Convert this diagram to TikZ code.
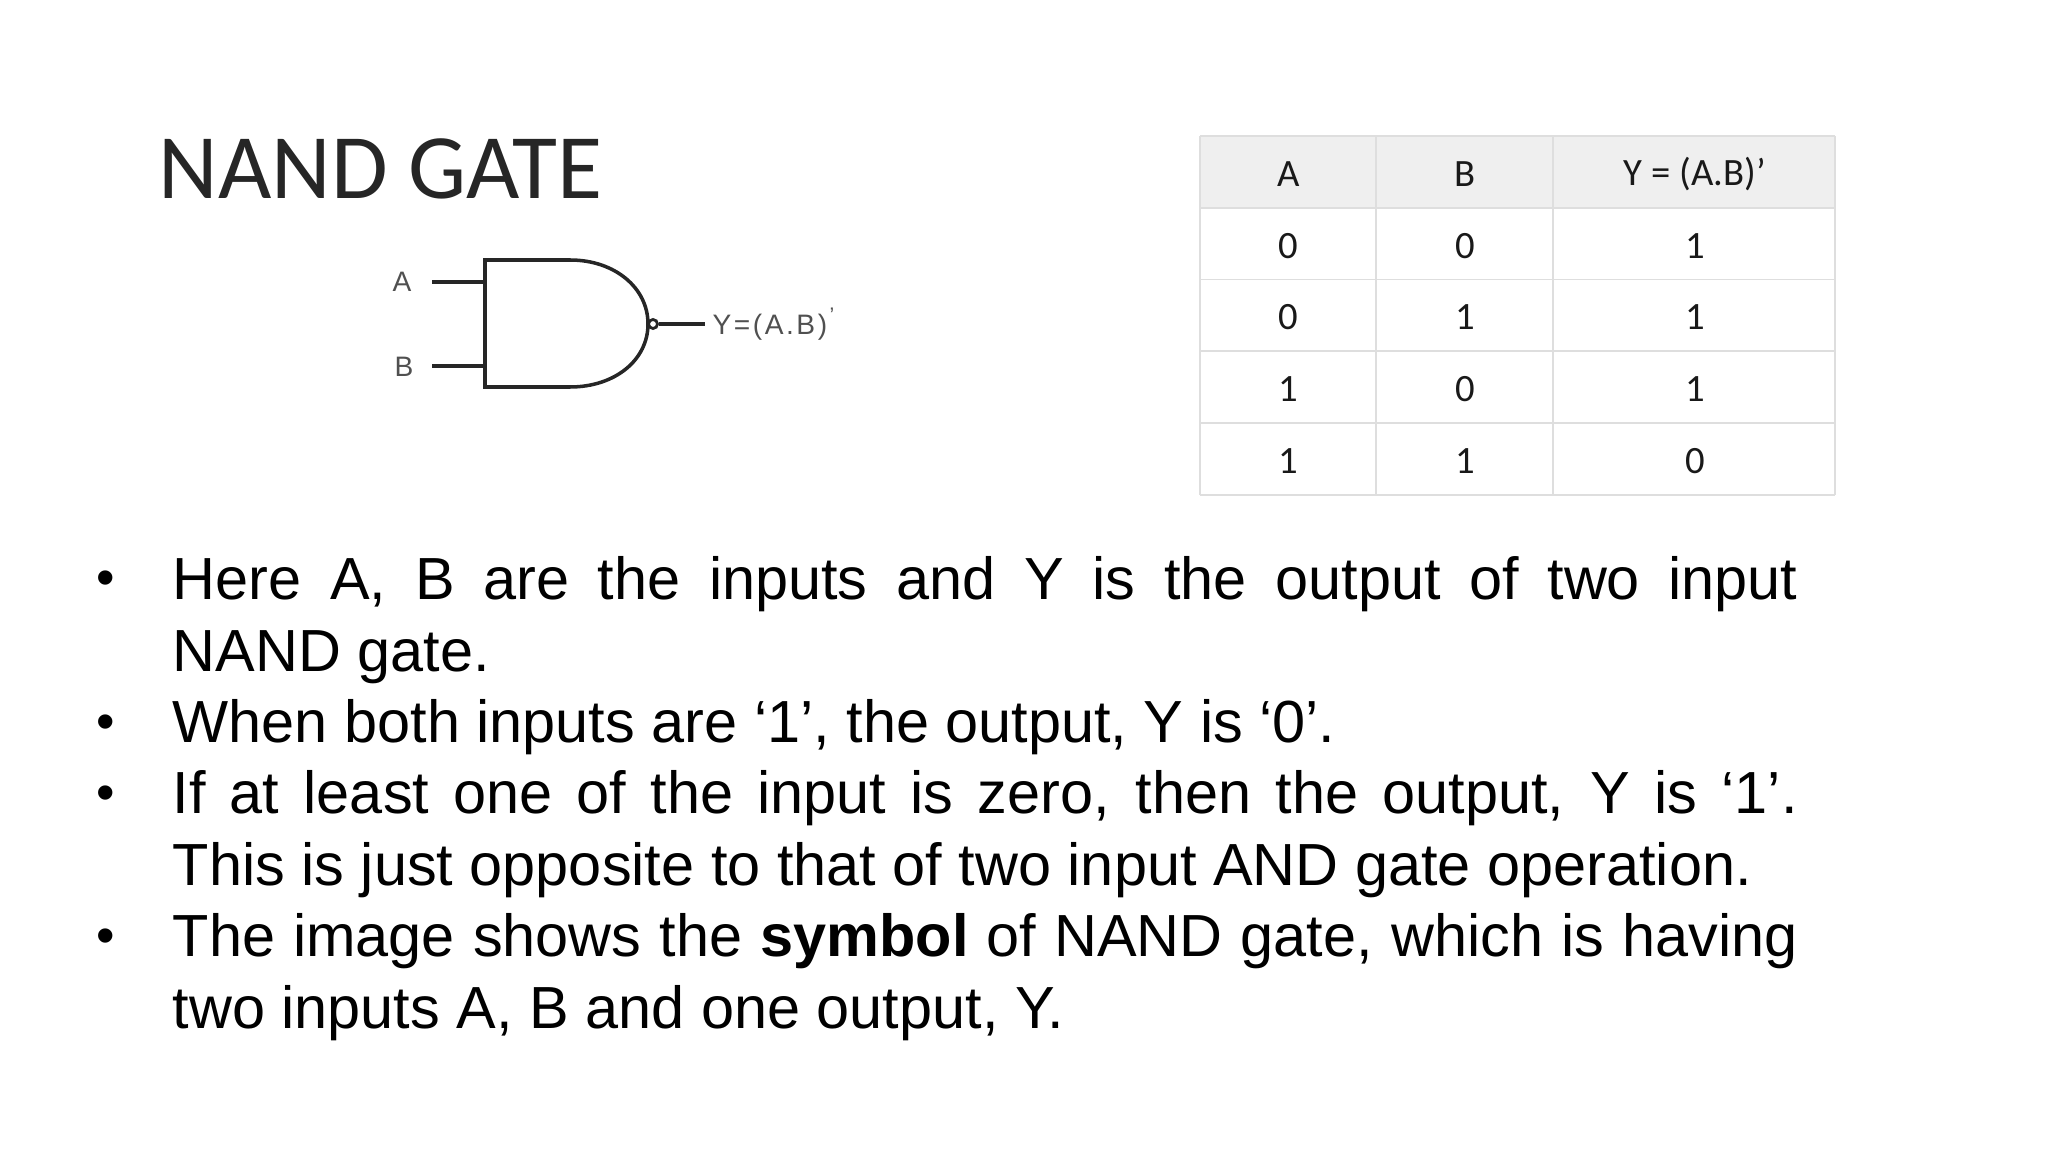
\documentclass[tikz,border=0pt]{standalone}
\usepackage{fontspec}
\setmainfont{Liberation Sans}
\newfontfamily\carlito{Carlito}
\newfontfamily\gatefont[LetterSpace=9]{Liberation Sans}
\usetikzlibrary{calc}
\definecolor{headgray}{HTML}{EFEFEF}
\definecolor{gridgray}{HTML}{DEDEDE}
\definecolor{labelgray}{HTML}{505050}
\tikzset{
    wire/.style={line width=1pt,color=black!85},
    gatelabel/.style={font=\gatefont\fontsize{8}{9}\selectfont,text=labelgray,inner sep=0pt},
    tablecell/.style={font=\carlito\fontsize{11}{13}\selectfont,inner sep=0pt,text=black!90},
    bulletline/.style={anchor=north west,inner sep=0pt,text width=1625*0.01cm,align=justify,
        font=\fontsize{16.9}{20.37}\selectfont},
    bulletdot/.style={anchor=base,inner sep=0pt,font=\fontsize{15}{20.37}\selectfont},
}

\begin{document}
\begin{tikzpicture}[x=0.01cm,y=-0.01cm]
            \useasboundingbox (0,0) rectangle (2048,1152);

            \node[anchor=base west,inner sep=0pt,font=\carlito\fontsize{26.2}{30}\selectfont,text=black!85] (title) at (158,199) {NAND GATE};

            % the gate
            \draw[wire,line join=miter] (570,260) -- (485,260) -- (485,387) -- (570,387) .. controls (615,387) and (648,360) .. (648,324) .. controls (648,288) and (615,260) .. (570,260);
            \coordinate (gateA) at (485,282);
            \coordinate (gateB) at (485,366);
            \coordinate (startA) at (432,282);
            \coordinate (startB) at (432,366);
            \coordinate (endY) at (705,324);
            \node[circle,draw=black!85,line width=0.8pt,inner sep=0pt,minimum size=9*0.01cm,fill=white] (bubble) at (653,324) {};
            \draw[wire] (startA) -- (gateA);
            \draw[wire] (startB) -- (gateB);
            \draw[wire] (bubble) -- (endY);
            \node[gatelabel] (labelA) at (402,282) {A};
            \node[gatelabel] (labelB) at (404,367) {B};
            \node[gatelabel,anchor=west] (labelY) at (712,327) {Y=(A.B)};
            \node[gatelabel,font=\fontsize{6}{7}\selectfont] (labelprime) at (832,315) {'};

            % the table
            \fill[headgray] (1200,136) rectangle (1835,208);
            \foreach \y in {136,208,279.5,351,423,495}
                \draw[gridgray,line width=0.4pt] (1200,\y) -- (1835,\y);
            \foreach \x in {1200,1376,1553,1835}
                \draw[gridgray,line width=0.4pt] (\x,136) -- (\x,495);
            \foreach \y/\a/\b/\c [count=\r] in {174.5/A/B/{Y = (A.B)’},246.5/0/0/1,317.5/0/1/1,389.5/1/0/1,461.5/1/1/0}{
                \node[tablecell] (cellA\r) at (1288.5,\y) {\a};
                \node[tablecell] (cellB\r) at (1465,\y) {\b};
                \node[tablecell] (cellY\r) at (1695,\y) {\c};
            }

            % the text
            \node[bulletdot] (dot1) at (106,596) {•};
            \node[bulletdot] (dot2) at (106,739) {•};
            \node[bulletdot] (dot3) at (106,810) {•};
            \node[bulletdot] (dot4) at (106,953) {•};
            \node[bulletline] (text1) at (172,556) {Here A, B are the inputs and Y is the output of two input\linebreak NAND gate.};
            \node[bulletline] (text2) at (172,699) {When both inputs are ‘1’, the output, Y is ‘0’.};
            \node[bulletline] (text3) at (172,770) {If at least one of the input is zero, then the output, Y is ‘1’.\linebreak This is just opposite to that of two input AND gate operation.};
            \node[bulletline] (text4) at (172,913) {The image shows the \textbf{symbol} of NAND gate, which is having\linebreak two inputs A, B and one output, Y.};
        \end{tikzpicture}
\end{document}
